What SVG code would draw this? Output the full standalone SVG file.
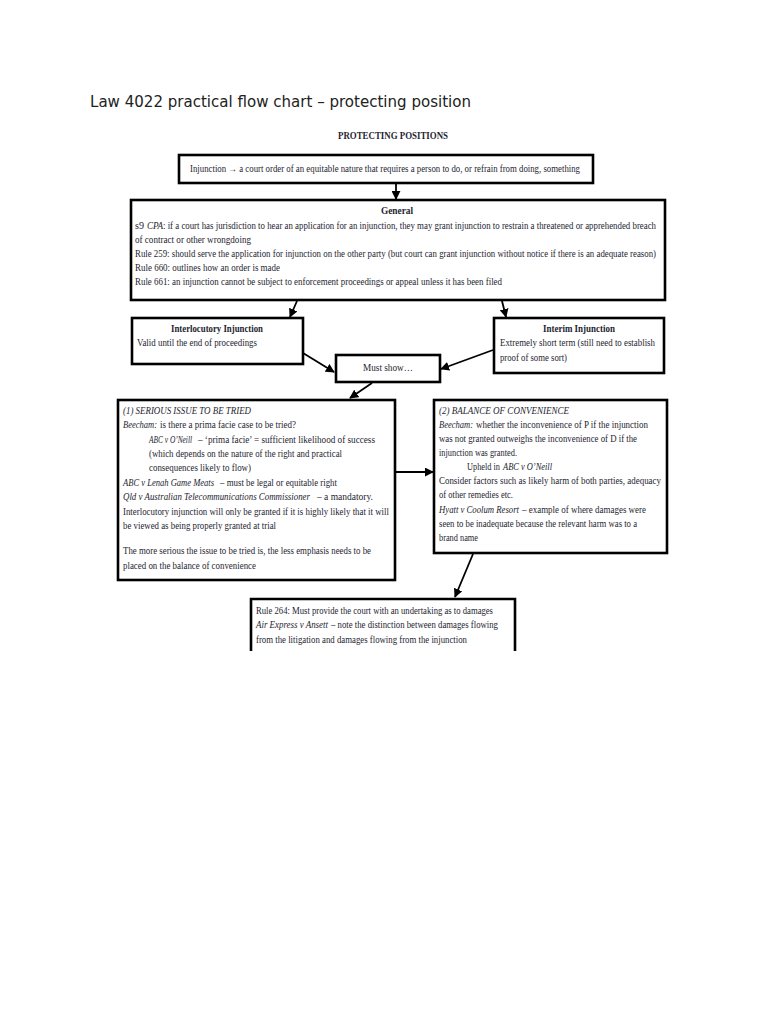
<svg xmlns="http://www.w3.org/2000/svg" width="768" height="1024" viewBox="0 0 768 1024">
<style>
.box{fill:#fff;stroke:#000;stroke-width:2.6}
.t{font-family:"Liberation Serif","Times New Roman",serif;font-size:10px;fill:#1e1e30}
.b{font-weight:bold;text-anchor:middle}
.i{font-style:italic}
.con{stroke:#000;stroke-width:1.8;fill:none;marker-end:url(#ah)}
</style>
<defs>
<marker id="ah" viewBox="0 0 10 10" refX="9" refY="5" markerWidth="5" markerHeight="5" orient="auto" markerUnits="strokeWidth">
<path d="M0,0 L10,5 L0,10 z" fill="#000"/>
</marker>
</defs>
<rect width="768" height="1024" fill="#fff"/>
<text x="90" y="107" font-family="'DejaVu Sans',sans-serif" font-size="15.5" fill="#222" textLength="381" lengthAdjust="spacingAndGlyphs">Law 4022 practical flow chart – protecting position</text>
<text x="393" y="139" class="t b" font-size="11" textLength="110" lengthAdjust="spacingAndGlyphs">PROTECTING POSITIONS</text>

<g id="connectors">
<line class="con" x1="396" y1="184" x2="396" y2="199"/>
<line class="con" x1="297" y1="301" x2="290" y2="317"/>
<line class="con" x1="502" y1="301" x2="506" y2="317"/>
<line class="con" x1="303" y1="353" x2="334" y2="372"/>
<line class="con" x1="493" y1="350" x2="441" y2="369"/>
<line class="con" x1="372" y1="383" x2="350" y2="398"/>
<line class="con" x1="395" y1="472" x2="433" y2="472"/>
<line class="con" x1="473" y1="554" x2="455" y2="597"/>
</g>

<g id="injunction">
<rect class="box" x="179" y="155" width="414" height="28"/>
<text class="t" x="190" y="172" textLength="390" lengthAdjust="spacingAndGlyphs">Injunction → a court order of an equitable nature that requires a person to do, or refrain from doing, something</text>
</g>

<g id="general">
<rect class="box" x="131" y="200" width="534" height="100"/>
<text class="t b" x="397" y="214" textLength="32" lengthAdjust="spacingAndGlyphs">General</text>
<text class="t" x="135" y="229" textLength="9" lengthAdjust="spacingAndGlyphs">s9</text>
<text class="t i" x="147" y="229" textLength="16" lengthAdjust="spacingAndGlyphs">CPA</text>
<text class="t" x="163" y="229" textLength="493" lengthAdjust="spacingAndGlyphs">: if a court has jurisdiction to hear an application for an injunction, they may grant injunction to restrain a threatened or apprehended breach</text>
<text class="t" x="135" y="243" textLength="116" lengthAdjust="spacingAndGlyphs">of contract or other wrongdoing</text>
<text class="t" x="135" y="257" textLength="521" lengthAdjust="spacingAndGlyphs">Rule 259: should serve the application for injunction on the other party (but court can grant injunction without notice if there is an adequate reason)</text>
<text class="t" x="135" y="271" textLength="145" lengthAdjust="spacingAndGlyphs">Rule 660: outlines how an order is made</text>
<text class="t" x="135" y="285" textLength="367" lengthAdjust="spacingAndGlyphs">Rule 661: an injunction cannot be subject to enforcement proceedings or appeal unless it has been filed</text>
</g>

<g id="interlocutory">
<rect class="box" x="132" y="318" width="171" height="46"/>
<text class="t b" x="217" y="332" textLength="92" lengthAdjust="spacingAndGlyphs">Interlocutory Injunction</text>
<text class="t" x="137" y="346" textLength="120" lengthAdjust="spacingAndGlyphs">Valid until the end of proceedings</text>
</g>

<g id="interim">
<rect class="box" x="494" y="318" width="170" height="55"/>
<text class="t b" x="579" y="332" textLength="72" lengthAdjust="spacingAndGlyphs">Interim Injunction</text>
<text class="t" x="500" y="346" textLength="155" lengthAdjust="spacingAndGlyphs">Extremely short term (still need to establish</text>
<text class="t" x="500" y="361" textLength="67" lengthAdjust="spacingAndGlyphs">proof of some sort)</text>
</g>

<g id="mustshow">
<rect class="box" x="336" y="355" width="104" height="27"/>
<text class="t" x="388" y="371" text-anchor="middle" textLength="50" lengthAdjust="spacingAndGlyphs">Must show…</text>
</g>

<g id="serious">
<rect class="box" x="118" y="400" width="277" height="180"/>
<text class="t i" x="123" y="414" textLength="128" lengthAdjust="spacingAndGlyphs">(1) SERIOUS ISSUE TO BE TRIED</text>
<text class="t i" x="123" y="428" textLength="34" lengthAdjust="spacingAndGlyphs">Beecham:</text>
<text class="t" x="160" y="428" textLength="136" lengthAdjust="spacingAndGlyphs">is there a prima facie case to be tried?</text>
<text class="t i" x="149" y="443" textLength="43" lengthAdjust="spacingAndGlyphs">ABC v O’Neill</text>
<text class="t" x="198" y="443" textLength="177" lengthAdjust="spacingAndGlyphs">– ‘prima facie’ = sufficient likelihood of success</text>
<text class="t" x="149" y="457" textLength="193" lengthAdjust="spacingAndGlyphs">(which depends on the nature of the right and practical</text>
<text class="t" x="149" y="471" textLength="102" lengthAdjust="spacingAndGlyphs">consequences likely to flow)</text>
<text class="t i" x="123" y="486" textLength="91" lengthAdjust="spacingAndGlyphs">ABC v Lenah Game Meats</text>
<text class="t" x="220" y="486" textLength="117" lengthAdjust="spacingAndGlyphs">– must be legal or equitable right</text>
<text class="t i" x="123" y="500" textLength="187" lengthAdjust="spacingAndGlyphs">Qld v Australian Telecommunications Commissioner</text>
<text class="t" x="317" y="500" textLength="56" lengthAdjust="spacingAndGlyphs">– a mandatory.</text>
<text class="t" x="123" y="515" textLength="266" lengthAdjust="spacingAndGlyphs">Interlocutory injunction will only be granted if it is highly likely that it will</text>
<text class="t" x="123" y="529" textLength="153" lengthAdjust="spacingAndGlyphs">be viewed as being properly granted at trial</text>
<text class="t" x="123" y="554" textLength="248" lengthAdjust="spacingAndGlyphs">The more serious the issue to be tried is, the less emphasis needs to be</text>
<text class="t" x="123" y="569" textLength="133" lengthAdjust="spacingAndGlyphs">placed on the balance of convenience</text>
</g>

<g id="balance">
<rect class="box" x="434" y="400" width="233" height="153"/>
<text class="t i" x="439" y="414" textLength="130" lengthAdjust="spacingAndGlyphs">(2) BALANCE OF CONVENIENCE</text>
<text class="t i" x="439" y="428" textLength="34" lengthAdjust="spacingAndGlyphs">Beecham:</text>
<text class="t" x="476" y="428" textLength="172" lengthAdjust="spacingAndGlyphs">whether the inconvenience of P if the injunction</text>
<text class="t" x="439" y="442" textLength="198" lengthAdjust="spacingAndGlyphs">was not granted outweighs the inconvenience of D if the</text>
<text class="t" x="439" y="456" textLength="78" lengthAdjust="spacingAndGlyphs">injunction was granted.</text>
<text class="t" x="467" y="470" textLength="33" lengthAdjust="spacingAndGlyphs">Upheld in</text>
<text class="t i" x="503" y="470" textLength="49" lengthAdjust="spacingAndGlyphs">ABC v O’Neill</text>
<text class="t" x="439" y="484" textLength="222" lengthAdjust="spacingAndGlyphs">Consider factors such as likely harm of both parties, adequacy</text>
<text class="t" x="439" y="498" textLength="74" lengthAdjust="spacingAndGlyphs">of other remedies etc.</text>
<text class="t i" x="439" y="513" textLength="80" lengthAdjust="spacingAndGlyphs">Hyatt v Coolum Resort</text>
<text class="t" x="522" y="513" textLength="124" lengthAdjust="spacingAndGlyphs">– example of where damages were</text>
<text class="t" x="439" y="527" textLength="198" lengthAdjust="spacingAndGlyphs">seen to be inadequate because the relevant harm was to a</text>
<text class="t" x="439" y="541" textLength="39" lengthAdjust="spacingAndGlyphs">brand name</text>
</g>

<g id="rule264">
<path class="box" d="M251,651 V599 H515 V651"/>
<text class="t" x="256" y="614" textLength="237" lengthAdjust="spacingAndGlyphs">Rule 264: Must provide the court with an undertaking as to damages</text>
<text class="t i" x="256" y="628" textLength="72" lengthAdjust="spacingAndGlyphs">Air Express v Ansett</text>
<text class="t" x="331" y="628" textLength="167" lengthAdjust="spacingAndGlyphs">– note the distinction between damages flowing</text>
<text class="t" x="256" y="643" textLength="211" lengthAdjust="spacingAndGlyphs">from the litigation and damages flowing from the injunction</text>
</g>
</svg>
